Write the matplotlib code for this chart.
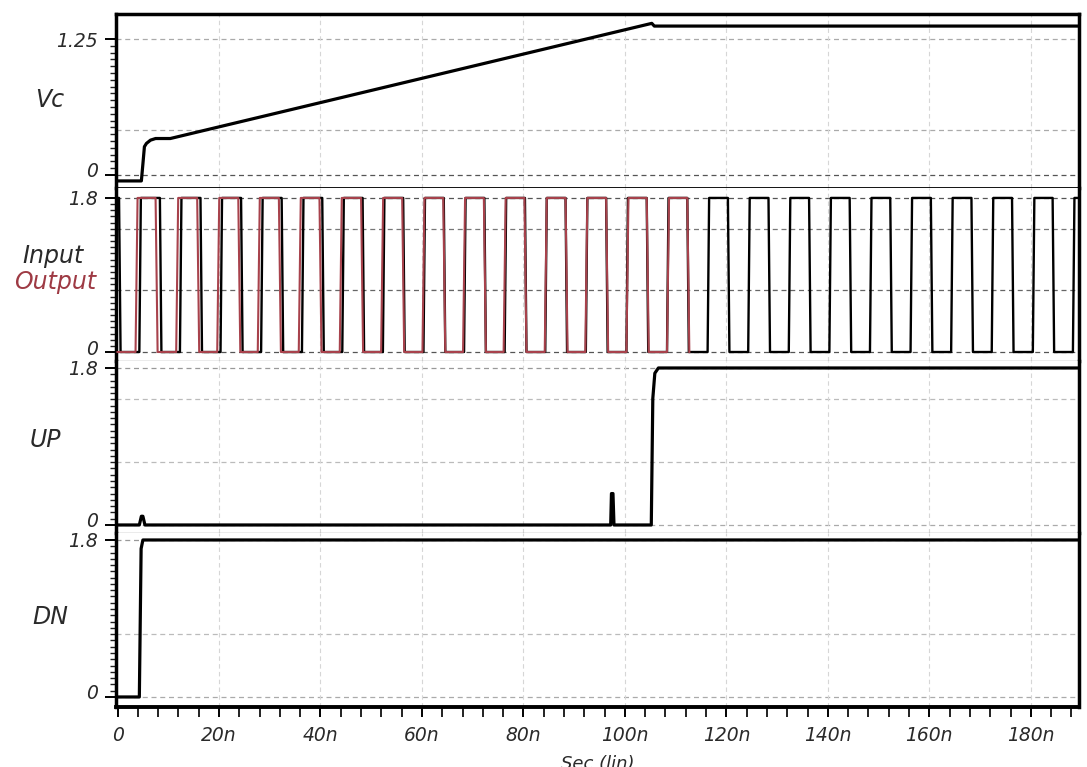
import numpy as np
import matplotlib.pyplot as plt
from matplotlib.transforms import ScaledTranslation

plt.rcParams['font.family'] = ['DejaVu Sans']
plt.rcParams['font.style'] = 'italic'

# time axis in ns
t_end = 189.5

# Vc (V)
vc_t = [0, 4.7, 5.0, 5.3, 5.7, 6.5, 7.5, 10.4, 105.3, 105.8, t_end]
vc_v = [-0.055, -0.055, 0.1, 0.26, 0.29, 0.32, 0.335, 0.335, 1.394, 1.369, 1.369]

# Input (black) edges, starts high
in_fall = [0.3, 8.35, 16.35, 24.35, 32.35, 40.35, 48.3, 56.3, 64.3, 72.3, 80.3, 88.3,
           96.3, 104.3, 112.3, 120.3, 128.3, 136.3, 144.3, 152.3, 160.3, 168.3, 176.3, 184.3]
in_rise = [4.3, 12.3, 20.3, 28.3, 36.35, 44.3, 52.3, 60.3, 68.3, 76.3, 84.3, 92.3,
           100.3, 108.3, 116.3, 124.3, 132.3, 140.3, 148.3, 156.3, 164.3, 172.3, 180.4, 188.3]

# Output (red) edges, starts low, trace stops at out_end
out_rise = [3.55, 11.56, 19.65, 27.64, 35.72, 43.8, 51.95, 60.1, 68.1, 76.1, 84.2, 92.2, 100.3, 108.3]
out_fall = [7.5, 15.7, 23.8, 31.8, 39.8, 48.0, 56.1, 64.2, 72.2, 80.2, 88.3, 96.3, 104.3, 112.3]
out_end = 112.7

# UP (V)
up_t = [0, 4.3, 4.7, 5.0, 5.4, 97.2, 97.35, 97.65, 97.85, 105.2, 105.5, 105.9, 106.6, t_end]
up_v = [0, 0, 0.1, 0.1, 0, 0, 0.36, 0.36, 0, 0, 1.45, 1.74, 1.8, 1.8]

# DN (V)
dn_t = [0, 4.3, 4.65, 5.0, t_end]
dn_v = [0, 0, 1.7, 1.8, 1.8]

hi = 1.8


def square(rises, falls, start_high, tr, stop):
    edges = sorted([(t, hi) for t in rises] + [(t, 0.0) for t in falls])
    ts = [0.0]
    vs = [hi if start_high else 0.0]
    for te, lvl in edges:
        if te > stop:
            break
        ts += [te, te + tr]
        vs += [vs[-1], lvl]
    ts.append(stop)
    vs.append(vs[-1])
    return ts, vs


in_t, in_v = square(in_rise, in_fall, True, 0.3, t_end)
out_t, out_v = square(out_rise, out_fall, False, 0.4, out_end)

W, H = 1087, 767
fig = plt.figure(figsize=(W / 100, H / 100), dpi=100)

x0, x1 = 116, 1079
bounds = [14, 188, 361, 533, 707]
ylims = [(-0.12, 1.48), (-0.105, 1.916), (-0.092, 1.88), (-0.115, 1.88)]
axes = []
for i in range(4):
    top, bot = bounds[i], bounds[i + 1]
    ax = fig.add_axes([x0 / W, 1 - bot / H, (x1 - x0) / W, (bot - top) / H])
    ax.set_xlim(-0.3, t_end)
    ax.set_ylim(*ylims[i])
    axes.append(ax)

ax_vc, ax_io, ax_up, ax_dn = axes
txt = '#2a2a2a'

# grids
grid_levels = [
    [(0, '#555555'), (0.417, '#aaaaaa'), (1.25, '#aaaaaa')],
    [(0, '#555555'), (0.72, '#666666'), (1.44, '#777777'), (1.8, '#555555')],
    [(0, '#aaaaaa'), (0.72, '#bbbbbb'), (1.44, '#bbbbbb'), (1.8, '#999999')],
    [(0, '#aaaaaa'), (0.72, '#bbbbbb'), (1.8, '#999999')],
]
for ax, levels in zip(axes, grid_levels):
    for y, c in levels:
        ax.axhline(y, color=c, lw=0.9, ls=(0, (4, 3)), zorder=1)
    for xv in range(20, 190, 20):
        ax.axvline(xv, color='#d6d6d6', lw=0.8, ls=(0, (4, 3)), zorder=1)

ax_vc.plot(vc_t, vc_v, color='black', lw=2.3, zorder=3)
ax_io.plot(in_t, in_v, color='black', lw=1.7, zorder=3)
ax_io.plot(out_t, out_v, color='#a8424c', lw=1.5, zorder=4)
ax_up.plot(up_t, up_v, color='black', lw=2.3, zorder=3)
ax_dn.plot(dn_t, dn_v, color='black', lw=2.3, zorder=3)

# y ticks
ytop = [1.25, 1.8, 1.8, 1.8]
ylab = ['1.25', '1.8', '1.8', '1.8']
ystep = [1.25 / 20, 1.8 / 25, 1.8 / 25, 1.8 / 25]
shift_up = ScaledTranslation(0, 5 / 100, fig.dpi_scale_trans)
for ax, yt, yl, st in zip(axes, ytop, ylab, ystep):
    ax.set_yticks([0, yt])
    ax.set_yticklabels(['0', yl])
    ax.set_yticks(np.arange(0, yt + st / 2, st), minor=True)
    ax.tick_params(axis='y', which='major', length=8, width=1.4, pad=5,
                   labelsize=13.5, labelcolor=txt, color='black')
    ax.tick_params(axis='y', which='minor', length=4, width=1.0, color='#222222')
    ax.tick_params(axis='x', which='both', bottom=False, labelbottom=False)
    zero_lab = ax.get_yticklabels()[0]
    zero_lab.set_transform(zero_lab.get_transform() + shift_up)
    for s in ['left', 'right']:
        ax.spines[s].set_linewidth(2.5)
        ax.spines[s].set_color('black')
    ax.spines['top'].set_visible(False)
    ax.spines['bottom'].set_linewidth(1.0)
    ax.spines['bottom'].set_color('#999999')

ax_vc.spines['top'].set_visible(True)
ax_vc.spines['top'].set_linewidth(2.5)
ax_vc.spines['bottom'].set_color('black')
ax_vc.spines['bottom'].set_linewidth(1.3)

# x axis on bottom panel
ax_dn.spines['bottom'].set_color('black')
ax_dn.spines['bottom'].set_linewidth(2.8)
ax_dn.set_xticks(range(0, 181, 20))
ax_dn.set_xticklabels(['0'] + ['%dn' % v for v in range(20, 181, 20)])
ax_dn.set_xticks(range(0, 189, 4), minor=True)
ax_dn.tick_params(axis='x', which='major', bottom=True, labelbottom=True, length=7,
                  width=1.4, pad=7, labelsize=13.5, labelcolor=txt)
ax_dn.tick_params(axis='x', which='minor', bottom=True, length=7, width=1.4, color='#222222')

fig.text(0.5 * (x0 + x1) / W, 1 - 755 / H, 'Sec (lin)', ha='center', va='top',
         fontsize=13, color=txt)

# panel labels
fig.text(50 / W, 1 - 100 / H, 'Vc', ha='center', va='center', fontsize=17, color=txt)
fig.text(53 / W, 1 - 256 / H, 'Input', ha='center', va='center', fontsize=17, color=txt)
fig.text(55 / W, 1 - 282 / H, 'Output', ha='center', va='center', fontsize=17, color='#9e3a44')
fig.text(45 / W, 1 - 440 / H, 'UP', ha='center', va='center', fontsize=17, color=txt)
fig.text(50 / W, 1 - 617 / H, 'DN', ha='center', va='center', fontsize=17, color=txt)

fig.savefig('out.png', dpi=100)
